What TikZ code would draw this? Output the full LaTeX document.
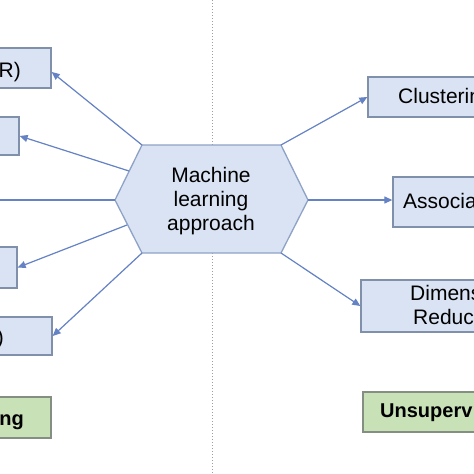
\documentclass[tikz,border=0pt]{standalone}
\usepackage{fontspec}
\setmainfont{Liberation Sans}
\usetikzlibrary{arrows.meta}
\definecolor{boxfill}{HTML}{DAE3F3}
\definecolor{boxline}{HTML}{8190AA}
\definecolor{hexline}{HTML}{8EA2C6}
\definecolor{arrcol}{HTML}{6482C4}
\definecolor{grnfill}{HTML}{C8E1B7}
\definecolor{grnline}{HTML}{858E83}
\definecolor{dotcol}{HTML}{9A9EA8}
\begin{document}
\begin{tikzpicture}[x=1pt,y=-1pt,
  bluebox/.style={draw=boxline,fill=boxfill,line width=1.3pt,inner sep=0pt},
  greenbox/.style={draw=grnline,fill=grnfill,line width=1.3pt,inner sep=0pt},
  lbl/.style={inner sep=0pt,font=\fontsize{21}{24}\selectfont},
  blbl/.style={inner sep=0pt,font=\fontsize{20}{24}\selectfont\bfseries},
  conn/.style={draw=arrcol,line width=1.2pt},
  arr/.style={conn,-{Triangle[length=8pt,width=7pt]}},
  dotline/.style={draw=dotcol,line width=1pt,dotted}]
\useasboundingbox (0,0) rectangle (474,474);
\clip (0,0) rectangle (474,474);
\fill[white] (0,0) rectangle (474,474);
% dotted divider
\coordinate (dtop) at (212,0);
\coordinate (dmid1) at (212,145);
\coordinate (dmid2) at (212,253);
\coordinate (dbot) at (212,474);
\draw[dotline] (dtop) -- (dmid1);
\draw[dotline] (dmid2) -- (dbot);
% hexagon
\coordinate (hL) at (115,200);
\coordinate (hTL) at (142,145);
\coordinate (hTR) at (281,145);
\coordinate (hR) at (308,200);
\coordinate (hBR) at (281,253);
\coordinate (hBL) at (142,253);
\coordinate (hUL) at (129,171);
\coordinate (hLL) at (127,225);
\filldraw[draw=hexline,fill=boxfill,line width=1.3pt] (hL) -- (hTL) -- (hTR) -- (hR) -- (hBR) -- (hBL) -- cycle;
\node[lbl,align=center] (hex) at (211,201) {Machine\\learning\\approach};
% left boxes
\node[bluebox,minimum width=151pt,minimum height=40pt] (b1) at (-24.5,68) {};
\node[bluebox,minimum width=119pt,minimum height=38pt] (b2) at (-40.5,136) {};
\node[bluebox,minimum width=117pt,minimum height=41pt] (b3) at (-41.5,267.5) {};
\node[bluebox,minimum width=152pt,minimum height=38pt] (b4) at (-24,336) {};
\node[greenbox,minimum width=151pt,minimum height=41pt] (g1) at (-24.5,417.5) {};
\node[lbl,anchor=base east] (t1) at (21,77) {(R)};
\node[lbl,anchor=base east] (t4) at (4,344) {)};
\node[blbl,anchor=base east] (tg) at (24,425) {ng};
% right boxes
\node[bluebox,minimum width=192pt,minimum height=40pt] (c1) at (464,97) {};
\node[bluebox,minimum width=167pt,minimum height=50pt] (a1) at (476.5,202) {};
\node[bluebox,minimum width=199pt,minimum height=52pt] (d1) at (460.5,306) {};
\node[greenbox,minimum width=197pt,minimum height=40pt] (u1) at (461.5,412) {};
\node[lbl,anchor=base west] (tc) at (398,103) {Clusterin};
\node[lbl,anchor=base west] (ta) at (403,208) {Associa};
\node[lbl,anchor=base west] (td1) at (410,300) {Dimens};
\node[lbl,anchor=base west] (td2) at (413,324) {Reduct};
\node[blbl,anchor=base west] (tu) at (380,417) {Unsuperv};
% connectors
\coordinate (lend) at (-5,200);
\draw[conn] (hL) -- (lend);
\draw[arr] (hTL) -- ([yshift=-4pt]b1.east);
\draw[arr] (hUL) -- (b2.east);
\draw[arr] (hLL) -- (b3.east);
\draw[arr] (hBL) -- (b4.east);
\draw[arr] (hTR) -- (c1.west);
\draw[arr] (hR) -- ([yshift=2pt]a1.west);
\draw[arr] (hBR) -- (d1.west);
\end{tikzpicture}
\end{document}
